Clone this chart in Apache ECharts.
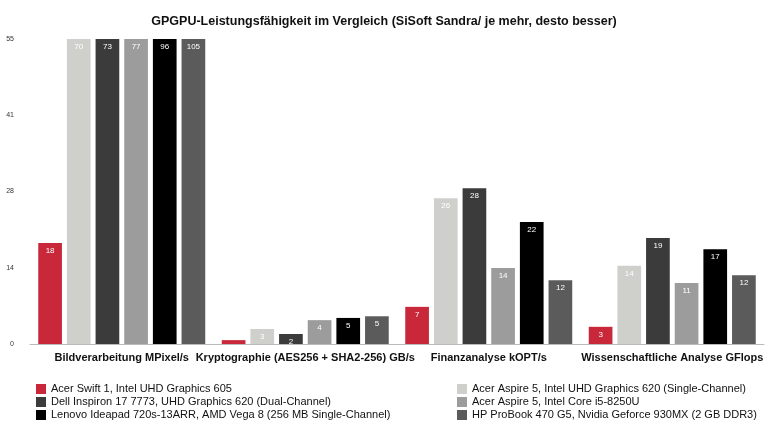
<!DOCTYPE html>
<html>
<head>
<meta charset="utf-8">
<script src="https://cdn.jsdelivr.net/npm/echarts@6/dist/echarts.min.js"></script>
<style>
  html,body{margin:0;padding:0;background:#fff;}
  #chart{width:768px;height:432px;}
</style>
</head>
<body>
<div id="chart"></div>
<script>
// Kategorien (x-Achse)
const categories=['Bildverarbeitung MPixel/s','Kryptographie (AES256 + SHA2-256) GB/s','Finanzanalyse kOPT/s','Wissenschaftliche Analyse GFlops'];
// Geräte
const deviceNames=[
  'Acer Swift 1, Intel UHD Graphics 605',
  'Acer Aspire 5, Intel UHD Graphics 620 (Single-Channel)',
  'Dell Inspiron 17 7773, UHD Graphics 620 (Dual-Channel)',
  'Acer Aspire 5, Intel Core i5-8250U',
  'Lenovo Ideapad 720s-13ARR, AMD Vega 8 (256 MB Single-Channel)',
  'HP ProBook 470 G5, Nvidia Geforce 930MX (2 GB DDR3)'
];
const deviceColors=['#c8283a','#cfcfcc','#3b3b3b','#9c9c9c','#000000','#5b5b5b'];
// Messwerte pro Gerät (Reihenfolge wie categories)
const acerSwift=[18.2,0.7,6.7,3.1];
const acerAspireUhd=[70,2.7,26.3,14.1];
const dellInspiron=[73,1.8,28.1,19.1];
const acerAspireI5=[77,4.3,13.7,11];
const lenovoIdeapad=[96,4.7,22,17.1];
const hpProbook=[105,5,11.5,12.4];
// y-Achse
const yMax=55;
const yTickStep=13.75;

const allValues=[acerSwift,acerAspireUhd,dellInspiron,acerAspireI5,lenovoIdeapad,hpProbook];
const font='"Liberation Sans", Arial, sans-serif';

const chart=echarts.init(document.getElementById('chart'),null,{renderer:'canvas'});

const series=allValues.map((vals,i)=>({
  name:deviceNames[i],
  type:'bar',
  itemStyle:{color:deviceColors[i]},
  barGap:'21%',
  barCategoryGap:'9%',
  //Balken über dem Maximum werden abgeschnitten, Label zeigt echten Wert
  data:vals.map(v=>({value:Math.min(v,yMax),real:v})),
  label:{
    show:true,
    position:'insideTop',
    distance:4,
    color:'#fff',
    fontSize:8,
    fontFamily:font,
    formatter:p=>Math.round(p.data.real)
  }
}));

const legendCommon={
  orient:'vertical',
  itemWidth:10,
  itemHeight:10,
  itemGap:1,
  icon:'rect',
  textStyle:{fontSize:11,lineHeight:12,color:'#111',fontFamily:font},
  selectedMode:false
};

chart.setOption({
  backgroundColor:'#fff',
  animation:false,
  title:{
    text:'GPGPU-Leistungsfähigkeit im Vergleich (SiSoft Sandra/ je mehr, desto besser)',
    left:'center',
    top:10,
    textStyle:{fontSize:12.5,fontWeight:'bold',color:'#111',fontFamily:font}
  },
  legend:[
    Object.assign({left:31,top:378,data:[deviceNames[0],deviceNames[2],deviceNames[4]]},legendCommon),
    Object.assign({left:452,top:378,data:[deviceNames[1],deviceNames[3],deviceNames[5]]},legendCommon)
  ],
  grid:{left:30,right:4,top:39,bottom:88},
  xAxis:{
    type:'category',
    data:categories,
    axisLine:{lineStyle:{color:'#bbb'}},
    axisTick:{show:false},
    axisLabel:{fontSize:11,fontWeight:'bold',color:'#111',fontFamily:font,margin:8,interval:0}
  },
  yAxis:{
    type:'value',
    min:0,
    max:yMax,
    interval:yTickStep,
    axisLine:{show:false},
    axisTick:{show:false},
    splitLine:{show:false},
    axisLabel:{fontSize:7,color:'#333',fontFamily:font,margin:16,formatter:v=>Math.round(v)}
  },
  series:series
});
</script>
</body>
</html>
